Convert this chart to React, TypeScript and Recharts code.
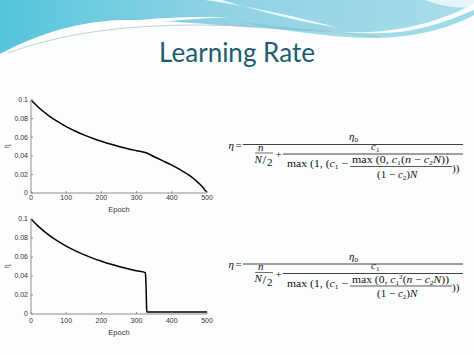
import { LineChart, Line, XAxis, YAxis } from "recharts";

const topEpochs = [0, 25, 50, 75, 100, 125, 150, 175, 200, 225, 250, 275, 300, 325, 350, 375, 400, 425, 450, 475, 485, 490, 495, 500];
const topRates = [0.1, 0.0909, 0.0833, 0.0769, 0.0714, 0.0667, 0.0625, 0.0588, 0.0556, 0.0526, 0.05, 0.0476, 0.0455, 0.0435, 0.039, 0.0345, 0.0299, 0.0248, 0.0189, 0.0112, 0.0074, 0.0051, 0.0027, 0.0012];

const bottomEpochs = [0, 25, 50, 75, 100, 125, 150, 175, 200, 225, 250, 275, 300, 325, 326, 327, 328, 329, 400, 500];
const bottomRates = [0.1, 0.0909, 0.0833, 0.0769, 0.0714, 0.0667, 0.0625, 0.0588, 0.0556, 0.0526, 0.05, 0.0476, 0.0455, 0.0435, 0.037, 0.0275, 0.012, 0.002, 0.002, 0.002];

const epochTicks = [0, 100, 200, 300, 400, 500];
const rateTicks = [0, 0.02, 0.04, 0.06, 0.08, 0.1];

const AXIS = "#8e8e8e";
const SANS = "Liberation Sans, Arial, sans-serif";
const SERIF = "Liberation Serif, Times New Roman, serif";
const tickFont = { fontSize: 7, fill: "#333", fontFamily: SANS };

interface RatePlotProps {
  epochs: number[];
  rates: number[];
  top: number;
  axisHeight: number;
  tickGap: number;
  labelOffset: number;
}

function RatePlot({ epochs, rates, top, axisHeight, tickGap, labelOffset }: RatePlotProps) {
  const data = epochs.map((epoch, i) => ({ epoch, rate: rates[i] }));
  return (
    <div style={{ position: "absolute", left: 0, top }}>
      <LineChart width={220} height={130} data={data} margin={{ top: 10, right: 13, bottom: 0, left: 0 }}>
        <XAxis
          dataKey="epoch"
          type="number"
          domain={[0, 500]}
          ticks={epochTicks}
          interval={0}
          height={axisHeight}
          stroke={AXIS}
          tickSize={-2}
          tickMargin={tickGap}
          tick={tickFont}
          label={{ value: "Epoch", position: "insideBottom", offset: labelOffset, fontSize: 7.5, fill: "#333", fontFamily: SANS }}
        />
        <XAxis
          xAxisId="top"
          orientation="top"
          dataKey="epoch"
          type="number"
          domain={[0, 500]}
          ticks={epochTicks}
          interval={0}
          height={0}
          stroke={AXIS}
          tickSize={-2}
          tick={false}
        />
        <YAxis
          type="number"
          domain={[0, 0.1]}
          ticks={rateTicks}
          interval={0}
          width={31}
          stroke={AXIS}
          tickSize={-2}
          tickMargin={5}
          tick={tickFont}
          label={{ value: "η", angle: -90, position: "insideLeft", offset: 6, fontSize: 8, fill: "#333", style: { textAnchor: "middle" } }}
        />
        <YAxis
          yAxisId="right"
          orientation="right"
          type="number"
          domain={[0, 0.1]}
          ticks={rateTicks}
          interval={0}
          width={0}
          stroke={AXIS}
          tickSize={-2}
          tick={false}
        />
        <Line dataKey="rate" type="monotone" stroke="#000" strokeWidth={1.5} dot={false} isAnimationActive={false} />
      </LineChart>
    </div>
  );
}

function Formula({ oy, squared }: { oy: number; squared: boolean }) {
  const sub = (t: string) => (
    <tspan fontSize={7} dy={2}>{t}</tspan>
  );
  return (
    <g fill="#111" fontFamily={SERIF} fontSize={11}>
      <text x={228.5} y={148.5 + oy} fontStyle="italic">η</text>
      <text x={235.5} y={148.5 + oy}>=</text>
      <line x1={243} x2={463} y1={144.5 + oy} y2={144.5 + oy} stroke="#111" strokeWidth={0.8} />
      <text x={349} y={140 + oy}>
        <tspan fontStyle="italic">η</tspan>
        {sub("0")}
      </text>
      <text x={258} y={150.5 + oy} fontStyle="italic">n</text>
      <line x1={255} x2={273} y1={153 + oy} y2={153 + oy} stroke="#111" strokeWidth={0.6} />
      <text x={254.5} y={162.5 + oy} fontStyle="italic">N</text>
      <text x={262.5} y={164 + oy} fontSize={13}>/</text>
      <text x={267} y={166 + oy}>2</text>
      <text x={275.5} y={158 + oy}>+</text>
      <text x={371} y={149.5 + oy}>
        <tspan fontStyle="italic">c</tspan>
        {sub("1")}
      </text>
      <line x1={283} x2={463} y1={154 + oy} y2={154 + oy} stroke="#111" strokeWidth={0.8} />
      <text x={287} y={167 + oy} textLength={61} lengthAdjust="spacingAndGlyphs">
        max (1, (<tspan fontStyle="italic">c</tspan>
        {sub("1")}
        <tspan dy={-2}> −</tspan>
      </text>
      <text x={352} y={163 + oy} textLength={97} lengthAdjust="spacingAndGlyphs">
        max (0, <tspan fontStyle="italic">c</tspan>
        {sub("1")}
        {squared ? (
          <>
            <tspan fontSize={7} dy={-5.5}>2</tspan>
            <tspan dy={3.5}>(</tspan>
          </>
        ) : (
          <tspan dy={-2}>(</tspan>
        )}
        <tspan fontStyle="italic">n</tspan> − <tspan fontStyle="italic">c</tspan>
        {sub("2")}
        <tspan dy={-2} fontStyle="italic">N</tspan>))
      </text>
      <line x1={350} x2={452} y1={166.5 + oy} y2={166.5 + oy} stroke="#111" strokeWidth={0.7} />
      <text x={377} y={177.5 + oy}>
        (1 − <tspan fontStyle="italic">c</tspan>
        {sub("2")}
        <tspan dy={-2}>)</tspan>
        <tspan fontStyle="italic">N</tspan>
      </text>
      <text x={452} y={171.5 + oy}>))</text>
    </g>
  );
}

export default function App() {
  return (
    <div style={{ position: "absolute", left: 0, top: 0, width: 474, height: 355, background: "#fcfdfd", overflow: "hidden" }}>
      <svg width={474} height={60} style={{ position: "absolute", left: 0, top: 0 }}>
        <defs>
          <linearGradient id="wave" x1="0" y1="0" x2="1" y2="0">
            <stop offset="0" stopColor="#55c5da" />
            <stop offset="0.45" stopColor="#8fd2e4" />
            <stop offset="1" stopColor="#a9dcea" />
          </linearGradient>
        </defs>
        <path d="M0,0 H474 V4 C430,26 390,34 340,32 C250,30 190,20 120,20 C70,22 30,38 0,54 Z" fill="url(#wave)" />
        <path d="M205,0 C260,8 300,18 340,28 C300,22 262,12 222,0 Z" fill="#ffffff" opacity={0.85} />
        <path d="M425,0 C440,6 458,9 474,7 V0 Z" fill="#ffffff" opacity={0.7} />
        <path d="M240,22 C300,30 360,36 400,32 C430,28 455,18 474,10 V15 C450,28 420,36 380,38 C330,38 280,30 240,22 Z" fill="#5cc6da" opacity={0.6} />
        <path d="M30,44 C80,22 150,16 230,17 C170,20 90,26 30,44 Z" fill="#ffffff" />
        <path d="M8,53 C60,34 120,25 200,25 C280,26 330,31 380,37" stroke="#a9bcc4" strokeWidth={0.7} fill="none" />
      </svg>
      <RatePlot epochs={topEpochs} rates={topRates} top={90} axisHeight={27} tickGap={4} labelOffset={8} />
      <RatePlot epochs={bottomEpochs} rates={bottomRates} top={209} axisHeight={25} tickGap={6} labelOffset={4} />
      <svg width={474} height={355} style={{ position: "absolute", left: 0, top: 0, pointerEvents: "none" }}>
        <text x={237} y={62} textAnchor="middle" fontFamily="Lato, Open Sans, sans-serif" fontSize={26} fill="#1d5c6f">
          Learning Rate
        </text>
        <Formula oy={0} squared={false} />
        <Formula oy={119.5} squared={true} />
      </svg>
    </div>
  );
}
